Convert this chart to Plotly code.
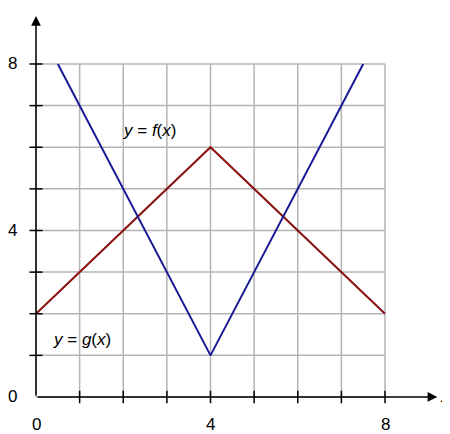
import plotly.graph_objects as go

# data
f_x = [0.5, 4, 7.5]
f_y = [8, 1, 8]
g_x = [0, 4, 8]
g_y = [2, 6, 2]
tick_vals = [0, 4, 8]

fig = go.Figure()

# grid
shapes = []
for k in range(9):
    shapes.append(dict(type="line", x0=k, x1=k, y0=0, y1=8, line=dict(color="#b4b4b4", width=1.5), layer="below"))
    shapes.append(dict(type="line", x0=0, x1=8, y0=k, y1=k, line=dict(color="#b4b4b4", width=1.5), layer="below"))
# small ticks on axes
for k in range(1, 9):
    shapes.append(dict(type="line", x0=k, x1=k, y0=-0.15, y1=0.15, line=dict(color="black", width=1.5)))
    shapes.append(dict(type="line", x0=-0.15, x1=0.15, y0=k, y1=k, line=dict(color="black", width=1.5)))

fig.add_trace(go.Scatter(x=g_x, y=g_y, mode="lines", line=dict(color="#8b1010", width=2)))
fig.add_trace(go.Scatter(x=f_x, y=f_y, mode="lines", line=dict(color="#1a1a96", width=2)))

ann = [
    # axes with arrows
    dict(x=9.2, y=0, ax=0, ay=0, xref="x", yref="y", axref="x", ayref="y", text="",
         showarrow=True, arrowhead=2, arrowsize=1.3, arrowwidth=1.5, arrowcolor="black"),
    dict(x=0, y=9.15, ax=0, ay=0, xref="x", yref="y", axref="x", ayref="y", text="",
         showarrow=True, arrowhead=2, arrowsize=1.3, arrowwidth=1.5, arrowcolor="black"),
    dict(x=9.38, y=0.02, text="<i>x</i>", showarrow=False, xanchor="center", yanchor="middle"),
    dict(x=-0.05, y=9.35, text="<i>y</i>", showarrow=False, xanchor="center", yanchor="middle"),
    dict(x=2.61, y=6.41, text="<i>y</i> = <i>f</i>(<i>x</i>)", showarrow=False, xanchor="center"),
    dict(x=1.05, y=1.37, text="<i>y</i> = <i>g</i>(<i>x</i>)", showarrow=False, xanchor="center"),
]
for v in tick_vals:
    ann.append(dict(x=v, y=-0.65, text=str(v), showarrow=False, yanchor="middle"))
    ann.append(dict(x=-0.4, y=v, text=str(v), showarrow=False, xanchor="right"))
for a in ann:
    a.setdefault("xref", "x")
    a.setdefault("yref", "y")

fig.update_layout(
    width=442, height=426, margin=dict(l=0, r=0, t=0, b=0),
    plot_bgcolor="white", paper_bgcolor="white", showlegend=False,
    font=dict(family="Liberation Sans, Arial", size=17, color="black"),
    xaxis=dict(range=[-0.642, 9.49], visible=False),
    yaxis=dict(range=[-0.889, 9.345], visible=False),
    shapes=shapes, annotations=ann,
)
fig.write_html("out.html")
